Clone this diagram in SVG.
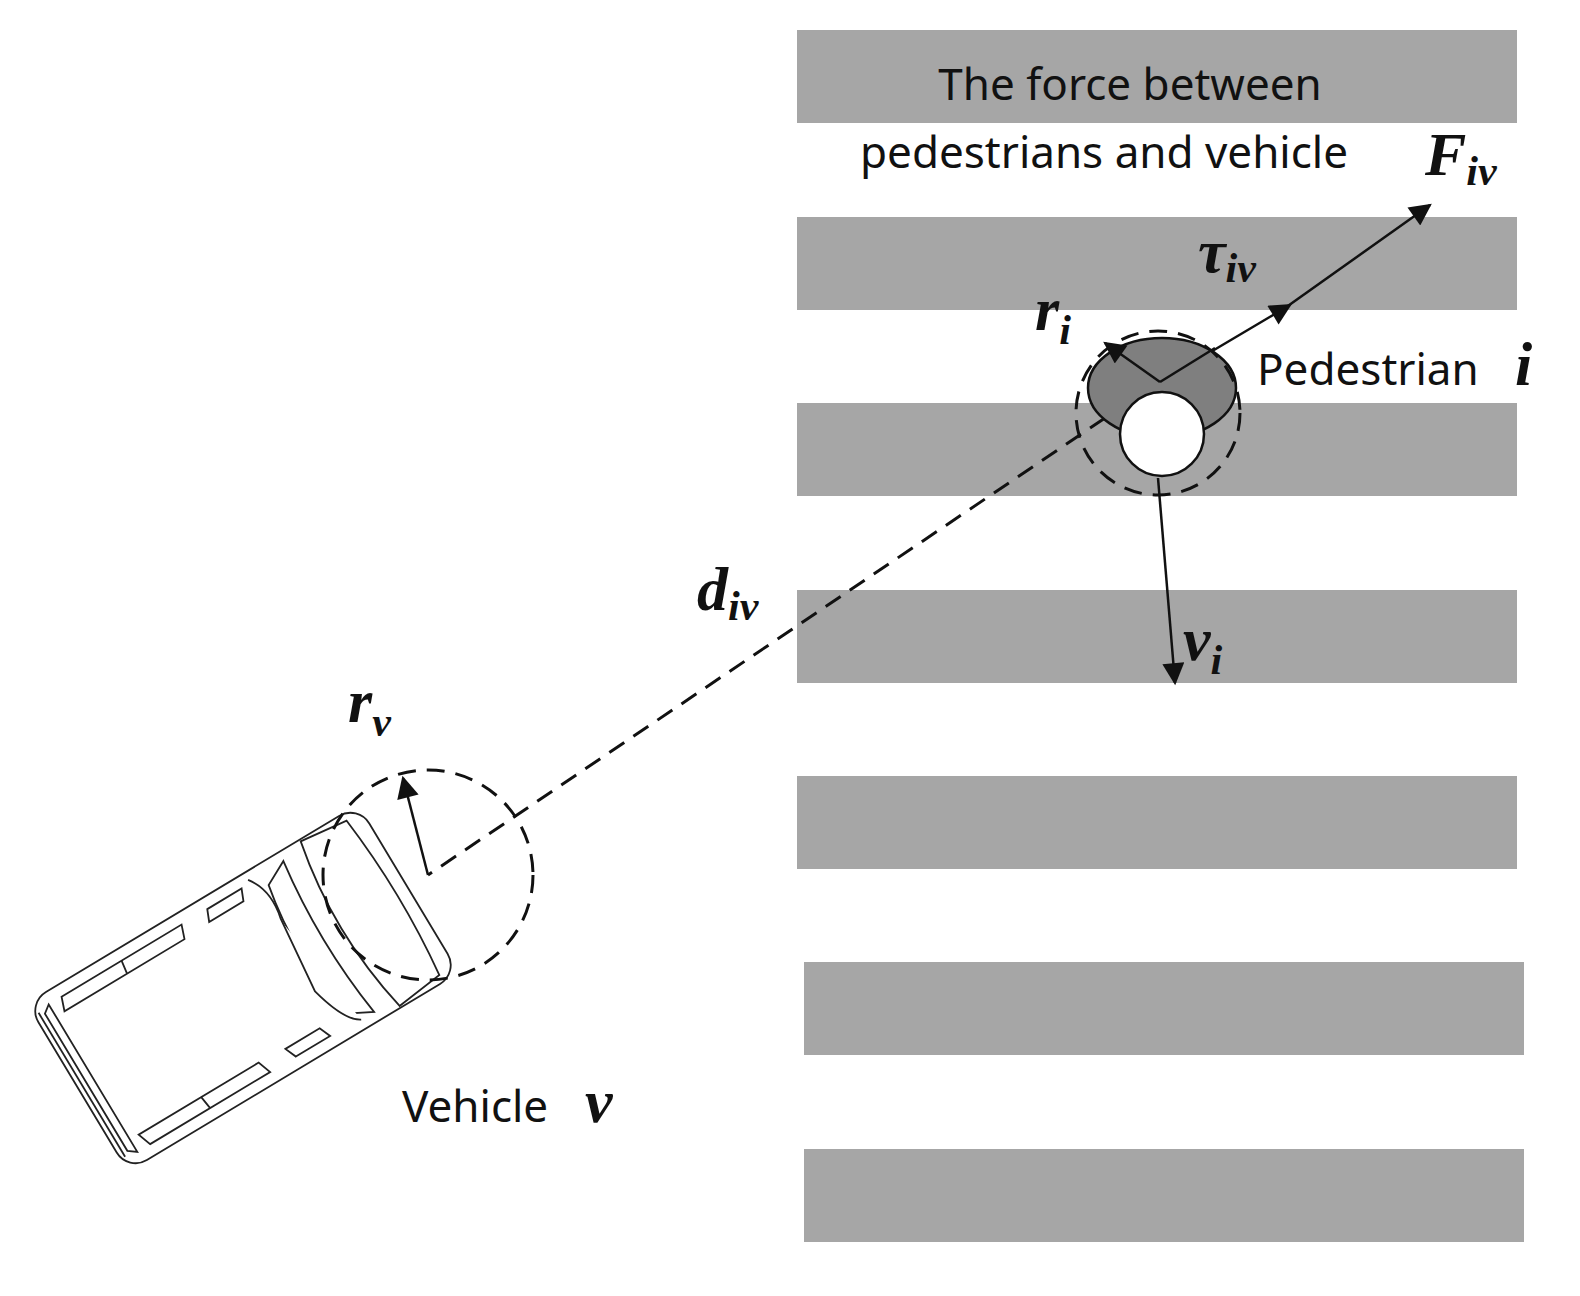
<svg xmlns="http://www.w3.org/2000/svg" width="1580" height="1296" viewBox="0 0 1580 1296">
<defs>
<style>
.s{fill:#a6a6a6}
.t{font-family:"Noto Sans",sans-serif;font-size:44px;fill:#111}
.m{font-family:"Liberation Serif",serif;font-style:italic;font-weight:bold;font-size:62px;fill:#111}
.sub{font-size:42px}
.ln{stroke:#111;stroke-width:2.5;fill:none}
.d{stroke:#111;stroke-width:3;fill:none;stroke-dasharray:18 11}
.c{stroke:#222;stroke-width:1.8;fill:#fff}
</style>
<marker id="b" viewBox="0 0 10 10" refX="9" refY="5" markerWidth="26" markerHeight="22" markerUnits="userSpaceOnUse" orient="auto"><path d="M0,0L10,5L0,10z" fill="#111"/></marker>
</defs>
<rect width="1580" height="1296" fill="#fff"/>
<g id="crossing">
<rect class="s" x="797" y="30" width="720" height="93"/>
<rect class="s" x="797" y="217" width="720" height="93"/>
<rect class="s" x="797" y="403" width="720" height="93"/>
<rect class="s" x="797" y="590" width="720" height="93"/>
<rect class="s" x="797" y="776" width="720" height="93"/>
<rect class="s" x="804" y="962" width="720" height="93"/>
<rect class="s" x="804" y="1149" width="720" height="93"/>
</g>
<g id="connectors">
<line class="d" x1="1105" y1="418" x2="428" y2="875"/>
<line class="ln" x1="1160" y1="382" x2="1290" y2="305" marker-end="url(#b)"/>
<line class="ln" x1="1285" y1="308" x2="1430" y2="205" marker-end="url(#b)"/>
<line class="ln" x1="1158" y1="478" x2="1175" y2="683" marker-end="url(#b)"/>
<line class="ln" x1="428" y1="875" x2="403" y2="778" marker-end="url(#b)"/>
</g>
<g id="pedestrian">
<ellipse cx="1162" cy="388" rx="74" ry="50" fill="#7f7f7f" stroke="#111" stroke-width="2.5"/>
<circle cx="1162" cy="434" r="42" fill="#fff" stroke="#111" stroke-width="2.5"/>
<line class="ln" x1="1160" y1="382" x2="1105" y2="343" marker-end="url(#b)"/>
<line class="ln" x1="1160" y1="382" x2="1215" y2="348"/>
<circle class="d" cx="1158" cy="413" r="82"/>
</g>
<g id="vehicle">
<g transform="translate(243,988) rotate(-31)">
<rect class="c" x="-193" y="-98" width="386" height="196" rx="22"/>
<path class="c" d="M-183,-80 L-183,80 L-175,86 L-175,-86 Z"/>
<path class="c" d="M-188,-84 L-188,84"/>
<path class="c" d="M-160,-86 L-20,-86 L-25,-72 L-165,-72 Z M-90,-86 L-92,-72"/>
<path class="c" d="M-160,86 L-20,86 L-25,72 L-165,72 Z M-90,86 L-92,72"/>
<path class="c" d="M10,-86 L50,-86 L45,-74 L5,-74 Z"/>
<path class="c" d="M10,86 L50,86 L45,74 L5,74 Z"/>
<path class="c" d="M75,-75 Q60,0 75,75 L100,88 Q88,0 100,-88 Z"/>
<path class="c" d="M60,-90 Q75,-70 68,-40 L60,40 Q70,80 85,88"/>
<path class="c" d="M125,-96 Q105,0 125,96 L175,90 Q185,0 175,-90 Z" fill="none"/>
</g>
<circle class="d" cx="428" cy="875" r="105"/>
</g>
<g id="labels">
<text class="t" x="1130" y="100" text-anchor="middle">The force between</text>
<text class="t" x="860" y="168">pedestrians and vehicle</text>
<text class="m" x="1425" y="175">F<tspan class="sub" dy="10">iv</tspan></text>
<text class="m" x="1198" y="272">τ<tspan class="sub" dy="10">iv</tspan></text>
<text class="m" x="1035" y="330">r<tspan class="sub" dy="14">i</tspan></text>
<text class="t" x="1257" y="385">Pedestrian</text>
<text class="m" x="1515" y="385">i</text>
<text class="m" x="697" y="610">d<tspan class="sub" dy="10">iv</tspan></text>
<text class="m" x="1183" y="660">v<tspan class="sub" dy="14">i</tspan></text>
<text class="m" x="348" y="722">r<tspan class="sub" dy="14">v</tspan></text>
<text class="t" x="402" y="1122">Vehicle</text>
<text class="m" x="585" y="1122">v</text>
</g>
</svg>
